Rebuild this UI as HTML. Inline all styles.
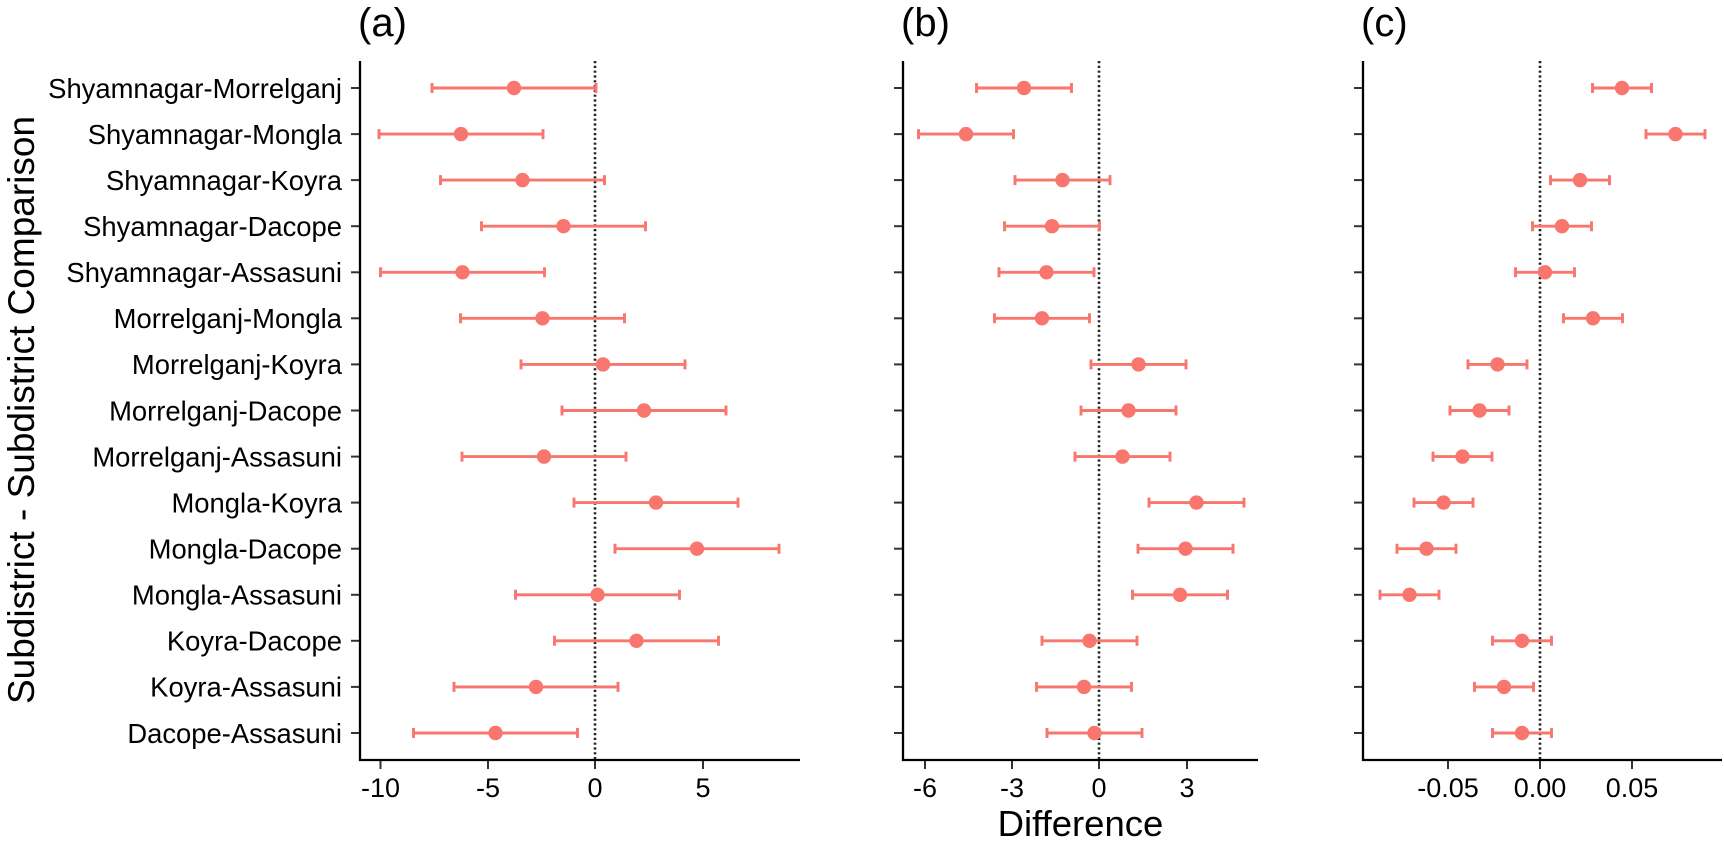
<!DOCTYPE html>
<html>
<head>
<meta charset="utf-8">
<style>
  html, body { margin: 0; padding: 0; background: #fff; }
  svg { display: block; }
  text { font-family: "Liberation Sans", Arial, sans-serif; fill: #000; }
  .yl { font-size: 27.4px; text-anchor: end; }
  .tk { font-size: 27px; text-anchor: middle; fill: #1a1a1a; }
  .tag { font-size: 40px; }
  .ttl { font-size: 36.5px; text-anchor: middle; }
  .ytl { font-size: 37px; text-anchor: middle; }
  .ax { stroke: #000; stroke-width: 2.3; fill: none; }
  .tick { stroke: #333; stroke-width: 2; }
  .vl { stroke: #222; stroke-width: 2.6; stroke-dasharray: 2.2 2.6; }
  .eb { stroke: #F8766D; stroke-width: 2.9; fill: none; }
  .pt { fill: #F8766D; }
</style>
</head>
<body>
<svg width="1724" height="841" viewBox="0 0 1724 841" xmlns="http://www.w3.org/2000/svg">
  <rect width="1724" height="841" fill="#fff"/>

  <!-- Y axis title -->
  <text class="ytl" transform="translate(34,410) rotate(-90)">Subdistrict - Subdistrict Comparison</text>

  <!-- Tags -->
  <text class="tag" x="358" y="36">(a)</text>
  <text class="tag" x="901" y="36">(b)</text>
  <text class="tag" x="1361" y="36">(c)</text>

  <!-- Y labels -->
  <g class="yl">
    <text x="342" y="97.8">Shyamnagar-Morrelganj</text>
    <text x="342" y="143.9">Shyamnagar-Mongla</text>
    <text x="342" y="189.9">Shyamnagar-Koyra</text>
    <text x="342" y="236.0">Shyamnagar-Dacope</text>
    <text x="342" y="282.1">Shyamnagar-Assasuni</text>
    <text x="342" y="328.1">Morrelganj-Mongla</text>
    <text x="342" y="374.2">Morrelganj-Koyra</text>
    <text x="342" y="420.3">Morrelganj-Dacope</text>
    <text x="342" y="466.4">Morrelganj-Assasuni</text>
    <text x="342" y="512.4">Mongla-Koyra</text>
    <text x="342" y="558.5">Mongla-Dacope</text>
    <text x="342" y="604.6">Mongla-Assasuni</text>
    <text x="342" y="650.6">Koyra-Dacope</text>
    <text x="342" y="696.7">Koyra-Assasuni</text>
    <text x="342" y="742.8">Dacope-Assasuni</text>
  </g>

  <!-- ============ Panel A ============ -->
  <line class="vl" x1="595" y1="61" x2="595" y2="760"/>
  <g class="tick">
    <line x1="351" x2="360" y1="88" y2="88"/><line x1="351" x2="360" y1="134.1" y2="134.1"/>
    <line x1="351" x2="360" y1="180.1" y2="180.1"/><line x1="351" x2="360" y1="226.2" y2="226.2"/>
    <line x1="351" x2="360" y1="272.3" y2="272.3"/><line x1="351" x2="360" y1="318.3" y2="318.3"/>
    <line x1="351" x2="360" y1="364.4" y2="364.4"/><line x1="351" x2="360" y1="410.5" y2="410.5"/>
    <line x1="351" x2="360" y1="456.6" y2="456.6"/><line x1="351" x2="360" y1="502.6" y2="502.6"/>
    <line x1="351" x2="360" y1="548.7" y2="548.7"/><line x1="351" x2="360" y1="594.8" y2="594.8"/>
    <line x1="351" x2="360" y1="640.8" y2="640.8"/><line x1="351" x2="360" y1="686.9" y2="686.9"/>
    <line x1="351" x2="360" y1="733" y2="733"/>
    <line x1="380.5" x2="380.5" y1="760" y2="769"/><line x1="488" x2="488" y1="760" y2="769"/>
    <line x1="595" x2="595" y1="760" y2="769"/><line x1="703" x2="703" y1="760" y2="769"/>
  </g>
  <g class="tk">
    <text x="380.5" y="797">-10</text>
    <text x="488" y="797">-5</text>
    <text x="595" y="797">0</text>
    <text x="703" y="797">5</text>
  </g>
  <g class="eb">
    <path d="M432,88H596M432,83V93M596,83V93"/>
    <path d="M379,134.1H543M379,129.1V139.1M543,129.1V139.1"/>
    <path d="M440.5,180.1H604.5M440.5,175.1V185.1M604.5,175.1V185.1"/>
    <path d="M481.5,226.2H645.5M481.5,221.2V231.2M645.5,221.2V231.2"/>
    <path d="M380.5,272.3H544.5M380.5,267.3V277.3M544.5,267.3V277.3"/>
    <path d="M460.5,318.3H624.5M460.5,313.3V323.3M624.5,313.3V323.3"/>
    <path d="M521,364.4H685M521,359.4V369.4M685,359.4V369.4"/>
    <path d="M562,410.5H726M562,405.5V415.5M726,405.5V415.5"/>
    <path d="M462,456.6H626M462,451.6V461.6M626,451.6V461.6"/>
    <path d="M574,502.6H738M574,497.6V507.6M738,497.6V507.6"/>
    <path d="M615,548.7H779M615,543.7V553.7M779,543.7V553.7"/>
    <path d="M515.5,594.8H679.5M515.5,589.8V599.8M679.5,589.8V599.8"/>
    <path d="M554.5,640.8H718.5M554.5,635.8V645.8M718.5,635.8V645.8"/>
    <path d="M454,686.9H618M454,681.9V691.9M618,681.9V691.9"/>
    <path d="M413.5,733H577.5M413.5,728V738M577.5,728V738"/>
  </g>
  <g class="pt">
    <circle cx="514" cy="88" r="7.2"/><circle cx="461" cy="134.1" r="7.2"/>
    <circle cx="522.5" cy="180.1" r="7.2"/><circle cx="563.5" cy="226.2" r="7.2"/>
    <circle cx="462.5" cy="272.3" r="7.2"/><circle cx="542.5" cy="318.3" r="7.2"/>
    <circle cx="603" cy="364.4" r="7.2"/><circle cx="644" cy="410.5" r="7.2"/>
    <circle cx="544" cy="456.6" r="7.2"/><circle cx="656" cy="502.6" r="7.2"/>
    <circle cx="697" cy="548.7" r="7.2"/><circle cx="597.5" cy="594.8" r="7.2"/>
    <circle cx="636.5" cy="640.8" r="7.2"/><circle cx="536" cy="686.9" r="7.2"/>
    <circle cx="495.5" cy="733" r="7.2"/>
  </g>
  <path class="ax" d="M360,61V760H800"/>

  <!-- ============ Panel B ============ -->
  <line class="vl" x1="1099" y1="61" x2="1099" y2="760"/>
  <g class="tick">
    <line x1="894" x2="903" y1="88" y2="88"/><line x1="894" x2="903" y1="134.1" y2="134.1"/>
    <line x1="894" x2="903" y1="180.1" y2="180.1"/><line x1="894" x2="903" y1="226.2" y2="226.2"/>
    <line x1="894" x2="903" y1="272.3" y2="272.3"/><line x1="894" x2="903" y1="318.3" y2="318.3"/>
    <line x1="894" x2="903" y1="364.4" y2="364.4"/><line x1="894" x2="903" y1="410.5" y2="410.5"/>
    <line x1="894" x2="903" y1="456.6" y2="456.6"/><line x1="894" x2="903" y1="502.6" y2="502.6"/>
    <line x1="894" x2="903" y1="548.7" y2="548.7"/><line x1="894" x2="903" y1="594.8" y2="594.8"/>
    <line x1="894" x2="903" y1="640.8" y2="640.8"/><line x1="894" x2="903" y1="686.9" y2="686.9"/>
    <line x1="894" x2="903" y1="733" y2="733"/>
    <line x1="925" x2="925" y1="760" y2="769"/><line x1="1012" x2="1012" y1="760" y2="769"/>
    <line x1="1099" x2="1099" y1="760" y2="769"/><line x1="1187" x2="1187" y1="760" y2="769"/>
  </g>
  <g class="tk">
    <text x="925" y="797">-6</text>
    <text x="1012" y="797">-3</text>
    <text x="1099" y="797">0</text>
    <text x="1187" y="797">3</text>
  </g>
  <text class="ttl" x="1080.5" y="836">Difference</text>
  <g class="eb">
    <path d="M976.5,88H1071.5M976.5,83V93M1071.5,83V93"/>
    <path d="M918.5,134.1H1013.5M918.5,129.1V139.1M1013.5,129.1V139.1"/>
    <path d="M1015,180.1H1110M1015,175.1V185.1M1110,175.1V185.1"/>
    <path d="M1004.5,226.2H1099.5M1004.5,221.2V231.2M1099.5,221.2V231.2"/>
    <path d="M999,272.3H1094M999,267.3V277.3M1094,267.3V277.3"/>
    <path d="M994.5,318.3H1089.5M994.5,313.3V323.3M1089.5,313.3V323.3"/>
    <path d="M1091,364.4H1186M1091,359.4V369.4M1186,359.4V369.4"/>
    <path d="M1081,410.5H1176M1081,405.5V415.5M1176,405.5V415.5"/>
    <path d="M1075,456.6H1170M1075,451.6V461.6M1170,451.6V461.6"/>
    <path d="M1149,502.6H1244M1149,497.6V507.6M1244,497.6V507.6"/>
    <path d="M1138,548.7H1233M1138,543.7V553.7M1233,543.7V553.7"/>
    <path d="M1132.5,594.8H1227.5M1132.5,589.8V599.8M1227.5,589.8V599.8"/>
    <path d="M1042,640.8H1137M1042,635.8V645.8M1137,635.8V645.8"/>
    <path d="M1036.5,686.9H1131.5M1036.5,681.9V691.9M1131.5,681.9V691.9"/>
    <path d="M1047,733H1142M1047,728V738M1142,728V738"/>
  </g>
  <g class="pt">
    <circle cx="1024" cy="88" r="7.2"/><circle cx="966" cy="134.1" r="7.2"/>
    <circle cx="1062.5" cy="180.1" r="7.2"/><circle cx="1052" cy="226.2" r="7.2"/>
    <circle cx="1046.5" cy="272.3" r="7.2"/><circle cx="1042" cy="318.3" r="7.2"/>
    <circle cx="1138.5" cy="364.4" r="7.2"/><circle cx="1128.5" cy="410.5" r="7.2"/>
    <circle cx="1122.5" cy="456.6" r="7.2"/><circle cx="1196.5" cy="502.6" r="7.2"/>
    <circle cx="1185.5" cy="548.7" r="7.2"/><circle cx="1180" cy="594.8" r="7.2"/>
    <circle cx="1089.5" cy="640.8" r="7.2"/><circle cx="1084" cy="686.9" r="7.2"/>
    <circle cx="1094.5" cy="733" r="7.2"/>
  </g>
  <path class="ax" d="M903,61V760H1258"/>

  <!-- ============ Panel C ============ -->
  <line class="vl" x1="1540" y1="61" x2="1540" y2="760"/>
  <g class="tick">
    <line x1="1354" x2="1363" y1="88" y2="88"/><line x1="1354" x2="1363" y1="134.1" y2="134.1"/>
    <line x1="1354" x2="1363" y1="180.1" y2="180.1"/><line x1="1354" x2="1363" y1="226.2" y2="226.2"/>
    <line x1="1354" x2="1363" y1="272.3" y2="272.3"/><line x1="1354" x2="1363" y1="318.3" y2="318.3"/>
    <line x1="1354" x2="1363" y1="364.4" y2="364.4"/><line x1="1354" x2="1363" y1="410.5" y2="410.5"/>
    <line x1="1354" x2="1363" y1="456.6" y2="456.6"/><line x1="1354" x2="1363" y1="502.6" y2="502.6"/>
    <line x1="1354" x2="1363" y1="548.7" y2="548.7"/><line x1="1354" x2="1363" y1="594.8" y2="594.8"/>
    <line x1="1354" x2="1363" y1="640.8" y2="640.8"/><line x1="1354" x2="1363" y1="686.9" y2="686.9"/>
    <line x1="1354" x2="1363" y1="733" y2="733"/>
    <line x1="1448" x2="1448" y1="760" y2="769"/><line x1="1540" x2="1540" y1="760" y2="769"/>
    <line x1="1632" x2="1632" y1="760" y2="769"/>
  </g>
  <g class="tk">
    <text x="1448" y="797">-0.05</text>
    <text x="1540" y="797">0.00</text>
    <text x="1632" y="797">0.05</text>
  </g>
  <g class="eb">
    <path d="M1592.5,88H1651.5M1592.5,83V93M1651.5,83V93"/>
    <path d="M1646,134.1H1705M1646,129.1V139.1M1705,129.1V139.1"/>
    <path d="M1550.5,180.1H1609.5M1550.5,175.1V185.1M1609.5,175.1V185.1"/>
    <path d="M1532.5,226.2H1591.5M1532.5,221.2V231.2M1591.5,221.2V231.2"/>
    <path d="M1515.5,272.3H1574.5M1515.5,267.3V277.3M1574.5,267.3V277.3"/>
    <path d="M1563.5,318.3H1622.5M1563.5,313.3V323.3M1622.5,313.3V323.3"/>
    <path d="M1468,364.4H1527M1468,359.4V369.4M1527,359.4V369.4"/>
    <path d="M1450,410.5H1509M1450,405.5V415.5M1509,405.5V415.5"/>
    <path d="M1433,456.6H1492M1433,451.6V461.6M1492,451.6V461.6"/>
    <path d="M1414,502.6H1473M1414,497.6V507.6M1473,497.6V507.6"/>
    <path d="M1397,548.7H1456M1397,543.7V553.7M1456,543.7V553.7"/>
    <path d="M1380,594.8H1439M1380,589.8V599.8M1439,589.8V599.8"/>
    <path d="M1492.5,640.8H1551.5M1492.5,635.8V645.8M1551.5,635.8V645.8"/>
    <path d="M1474.5,686.9H1533.5M1474.5,681.9V691.9M1533.5,681.9V691.9"/>
    <path d="M1492.5,733H1551.5M1492.5,728V738M1551.5,728V738"/>
  </g>
  <g class="pt">
    <circle cx="1622" cy="88" r="7.2"/><circle cx="1675.5" cy="134.1" r="7.2"/>
    <circle cx="1580" cy="180.1" r="7.2"/><circle cx="1562" cy="226.2" r="7.2"/>
    <circle cx="1545" cy="272.3" r="7.2"/><circle cx="1593" cy="318.3" r="7.2"/>
    <circle cx="1497.5" cy="364.4" r="7.2"/><circle cx="1479.5" cy="410.5" r="7.2"/>
    <circle cx="1462.5" cy="456.6" r="7.2"/><circle cx="1443.5" cy="502.6" r="7.2"/>
    <circle cx="1426.5" cy="548.7" r="7.2"/><circle cx="1409.5" cy="594.8" r="7.2"/>
    <circle cx="1522" cy="640.8" r="7.2"/><circle cx="1504" cy="686.9" r="7.2"/>
    <circle cx="1522" cy="733" r="7.2"/>
  </g>
  <path class="ax" d="M1363,61V760H1722"/>
</svg>
</body>
</html>
